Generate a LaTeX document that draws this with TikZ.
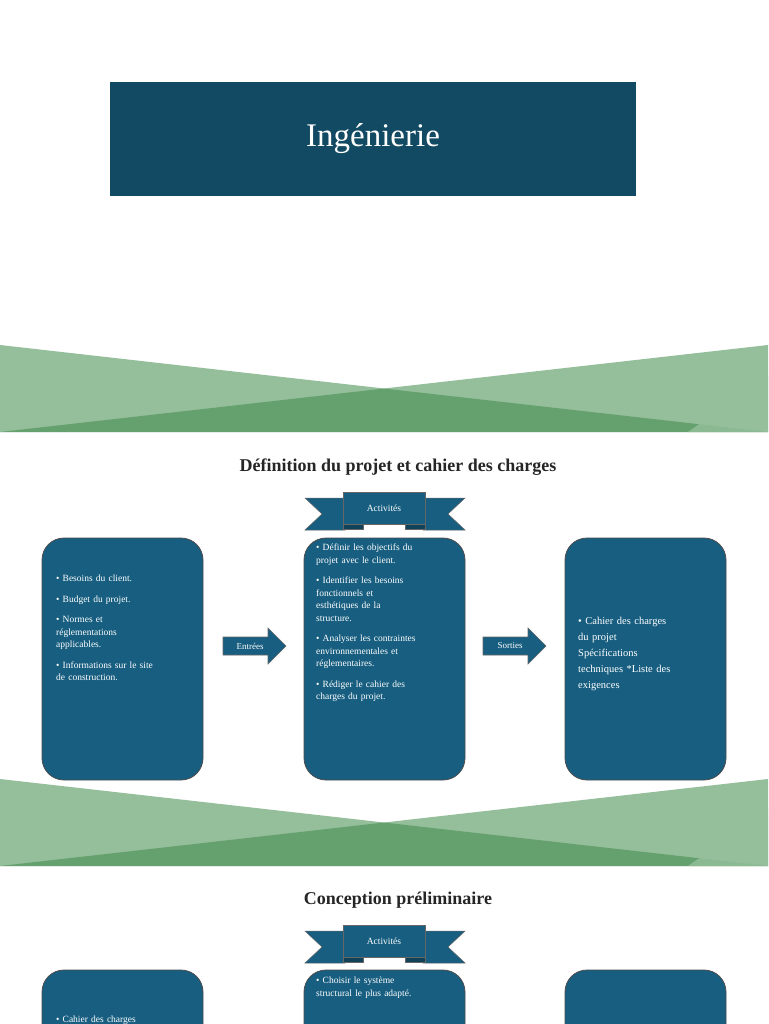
\documentclass[tikz,border=0pt]{standalone}
\usepackage{fontspec}
\setmainfont{Liberation Serif}
\begin{document}
\begin{tikzpicture}[x=1pt,y=-1pt,
  box/.style={draw=black!70,line width=0.8pt,fill=boxblue,rounded corners=22pt},
  txt/.style={text=white,font=\fontsize{9.5}{12.5}\selectfont,align=left,anchor=north west,text width=130pt,inner sep=0pt},
  arr/.style={draw=black!60,fill=boxblue,line width=0.6pt},
  gband/.style={fill=gr,fill opacity=0.55}]
\definecolor{boxblue}{HTML}{175E80}
\definecolor{titleblue}{HTML}{124A63}
\definecolor{gr}{HTML}{3F8A4A}
\useasboundingbox (0,0) rectangle (768,1024);
\clip (0,0) rectangle (768,1024);
\fill[white] (0,0) rectangle (768,1024);
% title
\node[fill=titleblue,minimum width=526pt,minimum height=114pt,inner sep=0pt,text=white,font=\fontsize{33}{40}\selectfont] (title) at (373,139) {Ingénierie};
% green bands
\foreach \t/\b in {345/432,779/866}{
  \fill[gband] (0,\t) -- (768,\b) -- (0,\b) -- cycle;
  \fill[gband] (768,\t) -- (0,\b) -- (768,\b) -- cycle;
  \fill[gr!55,fill opacity=0.8] (768,\t+30) -- (688,\b) -- (768,\b) -- cycle;
}
% section 1
\node[font=\bfseries\fontsize{18}{22}\selectfont,text=black!85] (h1) at (398,467) {Définition du projet et cahier des charges};
\newcommand\ribbon[2]{%
  \fill[boxblue,draw=black!60,line width=0.5pt] (305,#1+6) -- (345,#1+6) -- (345,#1+38) -- (305,#1+38) -- (322,#1+22) -- cycle;
  \fill[boxblue,draw=black!60,line width=0.5pt] (465,#1+6) -- (423,#1+6) -- (423,#1+38) -- (465,#1+38) -- (448,#1+22) -- cycle;
  \fill[boxblue!70!black,draw=black!60,line width=0.4pt] (343,#1+32) rectangle (363,#1+37);
  \fill[boxblue!70!black,draw=black!60,line width=0.4pt] (405,#1+32) rectangle (425,#1+37);
  \node[draw=black!60,fill=boxblue,line width=0.6pt,minimum width=82pt,minimum height=32pt,text=white,font=\fontsize{9.5}{11}\selectfont] (#2) at (384,#1+16) {Activités};}
\ribbon{492}{rib1}
\draw[box] (42,538) rectangle (203,780);
\node[box,draw=none,fill=none,minimum size=1pt] (b1) at (122,659) {};
\node[txt] (t1) at (56,575) {• Besoins du client.\\[8pt]• Budget du projet.\\[8pt]• Normes et\\réglementations\\applicables.\\[8pt]• Informations sur le site\\de construction.};
\draw[box] (304,538) rectangle (465,780);
\node[txt] (t2) at (316,544) {• Définir les objectifs du\\projet avec le client.\\[8pt]• Identifier les besoins\\fonctionnels et\\esthétiques de la\\structure.\\[8pt]• Analyser les contraintes\\environnementales et\\réglementaires.\\[8pt]• Rédiger le cahier des\\charges du projet.};
\draw[box] (565,538) rectangle (726,780);
\node[txt,font=\fontsize{10.5}{16}\selectfont] (t3) at (578,617) {• Cahier des charges\\du projet\\*Spécifications\\techniques *Liste des\\exigences};
\draw[arr] (223,637) -- (268,637) -- (268,628) -- (286,646) -- (268,664) -- (268,655) -- (223,655) -- cycle;
\node[text=white,font=\fontsize{9}{10}\selectfont] (e1) at (250,646) {Entrées};
\draw[arr] (483,637) -- (528,637) -- (528,628) -- (546,646) -- (528,664) -- (528,655) -- (483,655) -- cycle;
\node[text=white,font=\fontsize{9}{10}\selectfont] (s1) at (510,646) {Sorties};
% section 2
\node[font=\bfseries\fontsize{18}{22}\selectfont,text=black!85] (h2) at (398,900) {Conception préliminaire};
\ribbon{925}{rib2}
\draw[box] (42,970) rectangle (203,1110);
\draw[box] (304,970) rectangle (465,1110);
\draw[box] (565,970) rectangle (726,1110);
\node[txt] (u1) at (56,1016) {• Cahier des charges};
\node[txt] (u2) at (316,977) {• Choisir le système\\structural le plus adapté.};
\end{tikzpicture}
\end{document}
